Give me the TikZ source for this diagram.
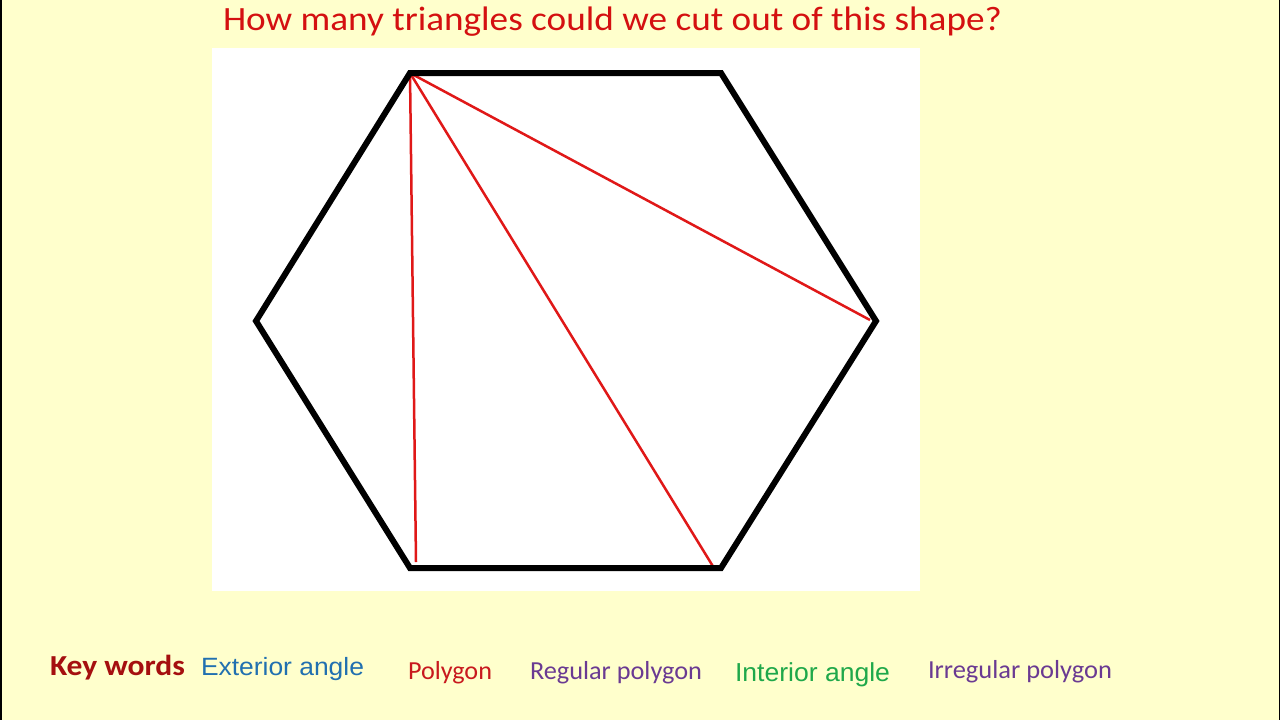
\documentclass[tikz,border=0pt]{standalone}
\usepackage{fontspec}
\usepackage{graphicx}
\setmainfont{Carlito}
\newfontfamily\arialf{Liberation Sans}
\definecolor{bgyellow}{HTML}{FFFFCC}
\definecolor{titlered}{HTML}{D41010}
\definecolor{keyred}{HTML}{A50F0F}
\definecolor{extblue}{HTML}{2170B0}
\definecolor{polyred}{HTML}{C8191E}
\definecolor{purp}{HTML}{6A3A92}
\definecolor{greenw}{HTML}{1FA84A}
\definecolor{cutred}{HTML}{E01818}
\newcommand{\fitw}[2]{\resizebox{#1pt}{\height}{#2}}
\begin{document}
\begin{tikzpicture}[x=1pt,y=-1pt,
  lbl/.style={anchor=base west,inner sep=0pt,outer sep=0pt},
  hexline/.style={line width=6pt,line join=miter,black},
  cutline/.style={line width=2.5pt,cutred}]
\useasboundingbox (0,0) rectangle (1280,720);
\fill[bgyellow] (0,0) rectangle (1280,720);
\fill[black] (0,0) rectangle (1.5,720);
\fill[black] (1278.5,0) rectangle (1280,720);
\fill[white] (212,48) rectangle (920,591);
% title
\node[lbl,text=titlered] (title) at (223,30) {\fitw{779}{\fontsize{34}{40}\selectfont How many triangles could we cut out of this shape?}};
% hexagon
\coordinate (A) at (410,73);
\coordinate (B) at (721,73);
\coordinate (C) at (876,321);
\coordinate (D) at (721,568);
\coordinate (E) at (410,568);
\coordinate (F) at (256,321);
\coordinate (P1) at (416,562);
\coordinate (P2) at (714,568);
\coordinate (P3) at (870,320);
\draw[cutline] (A) -- (P1);
\draw[cutline] (A) -- (P2);
\draw[cutline] (A) -- (P3);
\draw[hexline] (A) -- (B) -- (C) -- (D) -- (E) -- (F) -- cycle;
% key words
\node[lbl,text=keyred] (kw) at (50,675) {\fitw{135}{\fontsize{29}{34}\selectfont\bfseries Key words}};
\node[lbl,text=extblue] (ext) at (201,675) {\fitw{163}{\arialf\fontsize{25}{30}\selectfont Exterior angle}};
\node[lbl,text=polyred] (poly) at (408,679) {\fitw{84}{\fontsize{26}{30}\selectfont Polygon}};
\node[lbl,text=purp] (reg) at (530,679) {\fitw{172}{\fontsize{26}{30}\selectfont Regular polygon}};
\node[lbl,text=greenw] (int) at (735,681) {\fitw{155}{\arialf\fontsize{26}{30}\selectfont Interior angle}};
\node[lbl,text=purp] (irr) at (928,678) {\fitw{184}{\fontsize{26}{30}\selectfont Irregular polygon}};
\end{tikzpicture}
\end{document}
